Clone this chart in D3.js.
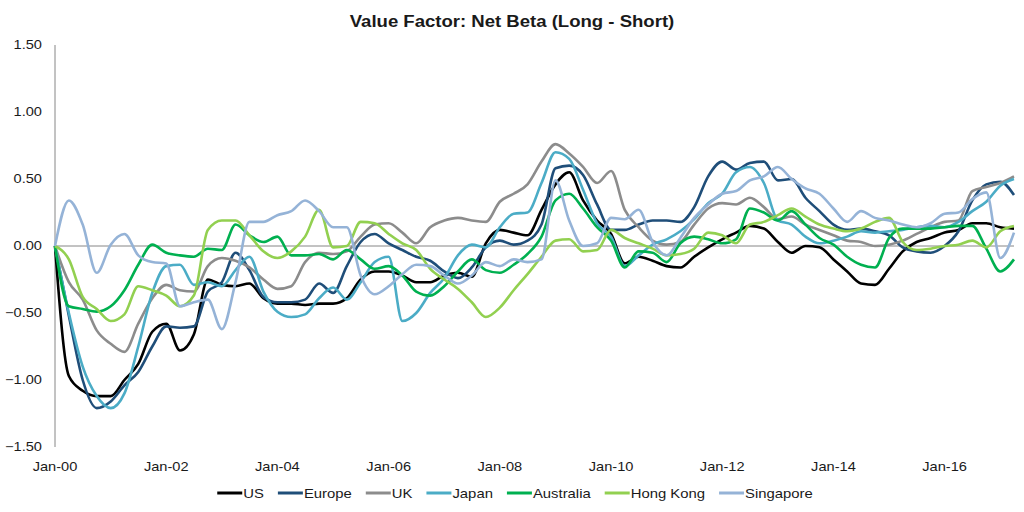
<!DOCTYPE html>
<html>
<head>
<meta charset="utf-8">
<script src="https://cdn.jsdelivr.net/npm/d3@7"></script>
<style>
  body { margin: 0; background: #fff; }
  svg { display: block; }
  text { font-family: "Liberation Sans", Arial, sans-serif; fill: #1a1a1a; }
</style>
</head>
<body>
<svg id="chart" width="1024" height="512"></svg>
<script>
// quarterly readings, Jan-00 .. Apr-17
const seriesNames = ["US", "Europe", "UK", "Japan", "Australia", "Hong Kong", "Singapore"];
const seriesColors = ["#000000", "#1F4E79", "#8C8C8C", "#4BACC6", "#00B050", "#92D050", "#95B3D7"];

const us = [0.00, -0.97, -1.08, -1.12, -1.12, -1.00, -0.88, -0.64, -0.58, -0.78,
  -0.66, -0.25, -0.29, -0.30, -0.28, -0.39, -0.43, -0.43, -0.44, -0.43,
  -0.43, -0.39, -0.25, -0.19, -0.19, -0.22, -0.27, -0.27, -0.22, -0.20,
  -0.23, 0.02, 0.12, 0.10, 0.08, 0.27, 0.46, 0.55, 0.34, 0.19,
  0.09, -0.13, -0.08, -0.11, -0.15, -0.16, -0.08, -0.01, 0.05, 0.10,
  0.15, 0.13, 0.03, -0.05, 0.00, -0.01, -0.10, -0.19, -0.28, -0.29,
  -0.17, -0.04, 0.03, 0.06, 0.10, 0.12, 0.17, 0.17, 0.14, 0.13];
const europe = [0.00, -0.52, -1.00, -1.21, -1.16, -1.04, -0.94, -0.75, -0.60, -0.61,
  -0.60, -0.34, -0.27, -0.05, -0.18, -0.38, -0.42, -0.42, -0.40, -0.28,
  -0.35, -0.15, 0.03, 0.09, 0.02, -0.03, -0.08, -0.11, -0.19, -0.24,
  -0.16, -0.01, 0.04, 0.01, 0.04, 0.16, 0.58, 0.60, 0.53, 0.31,
  0.12, 0.12, 0.16, 0.19, 0.19, 0.18, 0.29, 0.52, 0.63, 0.57,
  0.62, 0.63, 0.49, 0.50, 0.36, 0.26, 0.16, 0.12, 0.13, 0.11,
  0.08, -0.01, -0.04, -0.05, 0.00, 0.11, 0.34, 0.46, 0.48, 0.38];
const uk = [0.00, -0.27, -0.40, -0.63, -0.73, -0.79, -0.58, -0.39, -0.29, -0.33,
  -0.34, -0.15, -0.09, -0.11, -0.16, -0.25, -0.32, -0.30, -0.12, -0.05,
  -0.06, -0.04, 0.07, 0.16, 0.17, 0.10, 0.02, 0.14, 0.19, 0.21,
  0.19, 0.18, 0.33, 0.39, 0.46, 0.63, 0.76, 0.69, 0.59, 0.47,
  0.56, 0.27, 0.14, 0.04, 0.01, 0.03, 0.16, 0.28, 0.32, 0.31,
  0.36, 0.29, 0.20, 0.22, 0.16, 0.12, 0.08, 0.04, 0.03, 0.00,
  0.01, 0.04, 0.09, 0.14, 0.18, 0.19, 0.41, 0.44, 0.47, 0.52];
const japan = [0.00, -0.50, -0.90, -1.12, -1.21, -1.10, -0.75, -0.35, -0.15, -0.14,
  -0.29, -0.27, -0.30, -0.18, -0.08, -0.34, -0.49, -0.53, -0.51, -0.39,
  -0.31, -0.40, -0.27, -0.12, -0.08, -0.56, -0.50, -0.35, -0.24, -0.07,
  0.01, -0.01, 0.14, 0.24, 0.25, 0.47, 0.70, 0.65, 0.42, 0.17,
  0.07, -0.15, -0.07, 0.01, 0.05, 0.11, 0.20, 0.32, 0.39, 0.55,
  0.59, 0.47, 0.19, 0.16, 0.07, 0.02, 0.04, 0.07, 0.11, 0.10,
  0.11, 0.12, 0.14, 0.15, 0.14, 0.18, 0.26, 0.33, 0.45, 0.50];
const australia = [0.00, -0.45, -0.47, -0.49, -0.45, -0.33, -0.14, 0.01, -0.05, -0.07,
  -0.08, -0.02, -0.03, 0.16, 0.08, 0.03, 0.07, -0.07, -0.07, -0.06,
  -0.10, -0.03, -0.10, -0.17, -0.15, -0.22, -0.34, -0.37, -0.30, -0.19,
  -0.10, -0.18, -0.20, -0.14, -0.06, 0.07, 0.34, 0.39, 0.28, 0.14,
  0.04, -0.16, -0.04, -0.05, -0.12, 0.02, 0.07, 0.05, 0.02, 0.05,
  0.28, 0.25, 0.19, 0.26, 0.16, 0.06, 0.01, -0.08, -0.14, -0.16,
  0.06, 0.13, 0.13, 0.13, 0.14, 0.15, 0.15, -0.02, -0.19, -0.10];
const hongKong = [0.00, -0.10, -0.38, -0.47, -0.56, -0.51, -0.30, -0.33, -0.37, -0.45,
  -0.37, 0.12, 0.19, 0.19, 0.08, -0.04, -0.09, -0.04, 0.07, 0.27,
  -0.01, 0.00, 0.18, 0.17, 0.09, 0.02, -0.03, -0.17, -0.25, -0.32,
  -0.42, -0.53, -0.46, -0.33, -0.21, -0.08, 0.04, 0.05, -0.04, -0.03,
  0.12, 0.06, 0.02, -0.02, -0.07, -0.06, -0.02, 0.10, 0.08, 0.02,
  0.16, 0.18, 0.23, 0.28, 0.22, 0.16, 0.13, 0.11, 0.13, 0.18,
  0.21, 0.03, -0.03, -0.02, 0.00, 0.01, 0.04, -0.01, 0.11, 0.15];
const singapore = [0.00, 0.34, 0.16, -0.20, 0.01, 0.09, -0.07, -0.12, -0.13, -0.45,
  -0.42, -0.40, -0.62, -0.27, 0.18, 0.18, 0.23, 0.26, 0.34, 0.26,
  0.14, 0.14, -0.22, -0.36, -0.30, -0.21, -0.14, -0.15, -0.22, -0.28,
  -0.22, -0.12, -0.15, -0.10, -0.12, -0.10, 0.49, 0.19, 0.00, 0.02,
  0.21, 0.20, 0.27, 0.03, -0.07, 0.06, 0.21, 0.31, 0.39, 0.41,
  0.49, 0.52, 0.59, 0.50, 0.43, 0.39, 0.28, 0.18, 0.26, 0.21,
  0.19, 0.16, 0.14, 0.17, 0.24, 0.25, 0.35, 0.40, -0.09, 0.10];

const yTicks = [-1.5, -1.0, -0.5, 0, 0.5, 1.0, 1.5];
const xTickYears = [2000, 2002, 2004, 2006, 2008, 2010, 2012, 2014, 2016];

const dates = d3.timeMonth.range(new Date(2000, 0, 1), new Date(2017, 4, 1), 3);
const allSeries = [us, europe, uk, japan, australia, hongKong, singapore];

const svg = d3.select("#chart");
const stretch = 1.19; // text in the picture is a little wide

const x = d3.scaleTime()
    .domain([new Date(2000, 0, 1), new Date(2017, 3, 1)])
    .range([55, 1014]);
const y = d3.scaleLinear()
    .domain([-1.5, 1.5])
    .range([447, 45]);

function label(g, px, py, txt, size, anchor, weight) {
    return g.append("text")
        .attr("transform", `translate(${px},${py}) scale(${stretch},1)`)
        .attr("text-anchor", anchor)
        .style("font-size", size + "px")
        .style("font-weight", weight || "normal")
        .text(txt);
}

// title
label(svg, 512, 27, "Value Factor: Net Beta (Long - Short)", 15.6, "middle", "bold");

// y axis
svg.append("line")
    .attr("x1", 55).attr("x2", 55)
    .attr("y1", y(1.5)).attr("y2", y(-1.5))
    .attr("stroke", "#868686").attr("stroke-width", 1);
yTicks.forEach(t => label(svg, 42, y(t) + 4.4, d3.format(".2f")(t), 12.3, "end"));

// zero line
svg.append("line")
    .attr("x1", x.range()[0]).attr("x2", x.range()[1])
    .attr("y1", y(0)).attr("y2", y(0))
    .attr("stroke", "#868686").attr("stroke-width", 1);

// x labels
const fmt = d3.timeFormat("%b-%y");
xTickYears.forEach(yr => {
    const d = new Date(yr, 0, 1);
    label(svg, x(d), 471, fmt(d), 12.3, "middle");
});

// lines
const line = d3.line()
    .x((d, i) => x(dates[i]))
    .y(d => y(d))
    .curve(d3.curveMonotoneX);

svg.append("g").selectAll("path")
    .data(allSeries)
    .enter().append("path")
    .attr("d", line)
    .attr("fill", "none")
    .attr("stroke", (d, i) => seriesColors[i])
    .attr("stroke-width", 2.6)
    .attr("stroke-linejoin", "round");

// legend
const leg = svg.append("g");
let lx = 0;
seriesNames.forEach((name, i) => {
    const it = leg.append("g");
    it.append("line")
        .attr("x1", lx).attr("x2", lx + 25)
        .attr("y1", 493).attr("y2", 493)
        .attr("stroke", seriesColors[i]).attr("stroke-width", 3);
    const t = label(it, lx + 26, 497.5, name, 12.5, "start");
    const w = t.node().getComputedTextLength() * stretch;
    lx += 26 + w + 14;
});
const total = lx - 14;
leg.attr("transform", `translate(${515 - total / 2},0)`);
</script>
</body>
</html>
